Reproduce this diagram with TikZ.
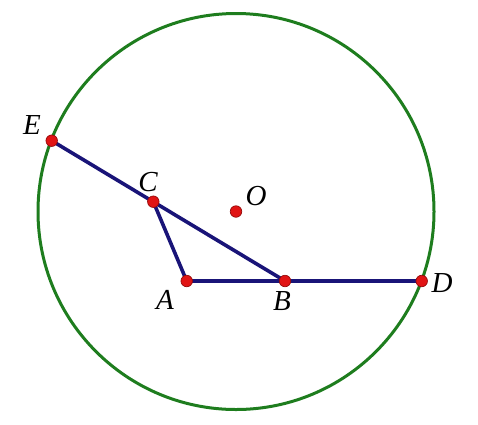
\documentclass[tikz,border=0pt]{standalone}
\usepackage{fontspec}
\setmainfont{Liberation Serif}
\begin{document}
\begin{tikzpicture}[x=1pt,y=-1pt,
  circ/.style={draw={rgb,255:red,30;green,125;blue,30}, line width=3pt},
  seg/.style={draw={rgb,255:red,25;green,20;blue,120}, line width=3.6pt},
  pt/.style={circle, fill={rgb,255:red,225;green,20;blue,20}, draw={rgb,255:red,150;green,10;blue,10}, line width=0.7pt, inner sep=0pt, minimum size=11.5pt},
  lab/.style={font=\fontsize{29}{29}\selectfont\itshape, inner sep=0pt}]
\useasboundingbox (0,0) rectangle (478,424);
\coordinate (O) at (236,211.5);
\draw[circ] (O) circle (198);
\coordinate (E) at (51.7,140.7);
\coordinate (C) at (153.3,201.7);
\coordinate (A) at (186.7,281);
\coordinate (B) at (285,281);
\coordinate (D) at (421.7,281);
\draw[seg] (E) -- (B);
\draw[seg] (C) -- (A) -- (D);
\foreach \p in {E,C,O,A,B,D} \node[pt] (p\p) at (\p) {};
\node[lab] (lE) at (32,125) {E};
\node[lab] (lC) at (148,182) {C};
\node[lab] (lO) at (256,196) {O};
\node[lab] (lA) at (165,300) {A};
\node[lab] (lB) at (282,301) {B};
\node[lab] (lD) at (442,283) {D};
\end{tikzpicture}
\end{document}
